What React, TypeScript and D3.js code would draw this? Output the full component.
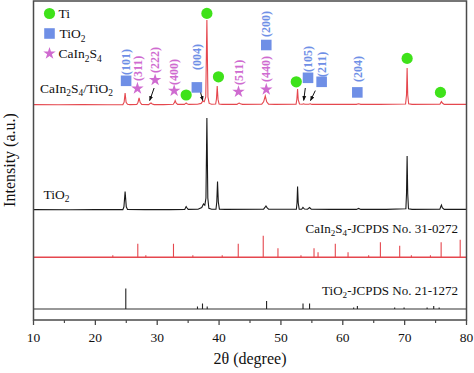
import React from "react";
import * as d3 from "d3";

// 2θ range and tick layout
const thetaDomain: [number, number] = [10, 80];
const majorTicks = [10, 20, 30, 40, 50, 60, 70, 80];
const minorTicks = [15, 25, 35, 45, 55, 65, 75];

// Vertical offsets (a.u.) of each stacked pattern
const offsetComposite = 1075;
const offsetTiO2 = 550;
const offsetRefCaIn2S4 = 314;
const offsetRefTiO2 = 55;

// Measured pattern: CaIn2S4/TiO2 composite  [2θ, intensity]
const compositeTrace: [number, number][] = [
  [10, 2], [14, 1], [18, 2], [22, 1], [24.45, 2], [24.65, 14], [24.81, 60], [24.97, 14], [25.2, 4], [25.6, 2],
  [26.7, 3], [26.9, 14], [27.07, 35], [27.25, 12], [27.5, 3],
  [28.6, 2], [28.8, 6], [29.0, 10], [29.2, 5], [29.5, 2],
  [31, 2], [32.6, 4], [32.78, 12], [32.9, 22], [33.05, 10], [33.3, 3],
  [34.4, 3], [34.55, 7], [34.68, 10], [34.82, 6], [35.1, 3],
  [36.5, 4], [37.1, 8], [37.38, 20], [37.6, 16], [37.85, 40], [38.03, 425], [38.2, 40], [38.4, 8], [38.8, 4],
  [39.45, 5], [39.58, 30], [39.7, 95], [39.83, 28], [40.0, 5], [40.5, 3],
  [42.9, 3], [43.1, 8], [43.26, 10], [43.45, 6], [43.8, 3],
  [46.9, 4], [47.2, 16], [47.47, 45], [47.7, 16], [48.0, 4], [49, 3],
  [52.45, 4], [52.58, 30], [52.69, 80], [52.8, 26], [53.0, 5], [53.45, 4], [53.66, 6], [53.85, 4],
  [54.5, 4], [54.75, 6], [55.0, 3],
  [58, 3], [62.2, 3], [62.56, 6], [62.9, 3], [66, 3],
  [70.15, 5], [70.3, 50], [70.4, 185], [70.5, 50], [70.65, 6], [71.2, 3],
  [75.7, 4], [75.85, 12], [75.95, 17], [76.1, 10], [76.4, 3], [80, 3],
];

// Measured pattern: bare TiO2
const tio2Trace: [number, number][] = [
  [10, 2], [16, 1], [20, 2], [24.45, 2], [24.62, 16], [24.81, 92], [25.0, 16], [25.2, 3], [28, 2], [32, 2],
  [34.45, 3], [34.6, 12], [34.68, 17], [34.8, 11], [35.0, 3],
  [36.6, 4], [37.2, 12], [37.48, 30], [37.7, 24], [37.88, 60], [38.03, 460], [38.18, 60], [38.35, 8], [38.8, 4],
  [39.5, 4], [39.63, 40], [39.75, 142], [39.88, 40], [40.05, 4], [41, 3],
  [47.2, 4], [47.45, 14], [47.58, 20], [47.75, 12], [48.0, 4],
  [52.5, 4], [52.6, 35], [52.69, 117], [52.8, 35], [52.95, 4], [53.35, 4], [53.56, 13], [53.8, 5],
  [54.3, 4], [54.63, 12], [54.9, 4],
  [58, 3], [62.2, 3], [62.56, 8], [62.9, 3], [67, 3],
  [70.2, 6], [70.3, 80], [70.4, 270], [70.5, 80], [70.62, 6], [71.2, 3],
  [75.7, 4], [75.85, 18], [75.95, 25], [76.08, 12], [76.4, 3], [80, 3],
];

// Reference lines: CaIn2S4 JCPDS No. 31-0272  [2θ, intensity]
const refCaIn2S4: [number, number][] = [
  [22.82, 10], [26.86, 67], [28.16, 10], [32.63, 67], [35.76, 10], [40.51, 10], [43.1, 67],
  [47.14, 107], [49.52, 45], [53.24, 10], [55.35, 45], [56.0, 25], [58.79, 67], [60.85, 25],
  [64.18, 10], [66.08, 75], [69.2, 57], [71.09, 10], [74.17, 10], [75.9, 75], [78.98, 87],
];

// Reference lines: TiO2 JCPDS No. 21-1272
const refTiO2: [number, number][] = [
  [24.92, 103], [36.51, 12], [37.32, 28], [38.08, 12], [47.68, 40], [53.57, 28], [54.63, 28],
  [61.76, 8], [62.36, 15], [68.39, 8], [69.91, 8], [73.63, 8], [74.7, 15], [75.58, 8],
];

// Phase markers [2θ, level]
const tiMarks: [number, number][] = [
  [34.68, 1125], [38.03, 1533], [39.9, 1216], [52.48, 1191], [70.4, 1308], [75.79, 1138],
];
const tio2Marks: [number, number][] = [
  [24.97, 1196], [36.41, 1163], [47.63, 1375], [54.38, 1211], [56.58, 1191], [62.35, 1138],
];
const caIn2S4Marks: [number, number][] = [
  [26.8, 1158], [29.66, 1200], [32.74, 1146], [43.14, 1141], [47.63, 1153],
];

// Miller indices: [label, 2θ, level of the label's lower end, phase]
const hklLabels: [string, number, number, "tio2" | "cis"][] = [
  ["(101)", 24.97, 1225, "tio2"],
  ["(311)", 26.8, 1195, "cis"],
  ["(222)", 29.66, 1235, "cis"],
  ["(400)", 32.74, 1175, "cis"],
  ["(004)", 36.41, 1250, "tio2"],
  ["(511)", 43.14, 1175, "cis"],
  ["(440)", 47.63, 1190, "cis"],
  ["(200)", 47.63, 1415, "tio2"],
  ["(105)", 54.38, 1240, "tio2"],
  ["(211)", 56.58, 1215, "tio2"],
  ["(204)", 62.35, 1190, "tio2"],
];

// Arrows pointing at weak reflections: [from 2θ, from level, to 2θ, to level]
const arrows: [number, number, number, number][] = [
  [29.5, 1160, 28.78, 1097],
  [36.78, 1165, 37.36, 1097],
  [53.94, 1160, 53.68, 1098],
  [55.56, 1147, 54.78, 1097],
];

const W = 474;
const H = 373;
const plot = { left: 33.5, right: 466.5, top: 1, bottom: 320 };

const RED = "#e5474e";
const BLUE = "#6f8fe6";
const PINK = "#cf6bd0";
const GREEN = "#3fe21a";
const FONT = "'Liberation Serif', 'Times New Roman', serif";

function Chem({ parts, x, y, size, anchor = "start" }: {
  parts: [string, boolean][]; x: number; y: number; size: number; anchor?: string;
}) {
  // parts: [text, isSubscript]
  const sub = size * 0.7;
  const shift = size * 0.28;
  let prevSub = false;
  return (
    <text x={x} y={y} fontSize={size} fontFamily={FONT} textAnchor={anchor} fill="#111">
      {parts.map(([t, isSub], i) => {
        const dy = isSub && !prevSub ? shift : !isSub && prevSub ? -shift : 0;
        prevSub = isSub;
        return (
          <tspan key={i} dy={dy} fontSize={isSub ? sub : size}>{t}</tspan>
        );
      })}
    </text>
  );
}

export default function App() {
  const x = d3.scaleLinear().domain(thetaDomain).range([plot.left, plot.right]);
  const y = d3.scaleLinear().domain([0, 1600]).range([plot.bottom, 0]);

  const line = (offset: number) =>
    d3.line<[number, number]>()
      .x((d) => x(d[0]))
      .y((d) => y(d[1] + offset));

  const star = d3.symbol().type(d3.symbolStar).size(48)()!;
  const square = d3.symbol().type(d3.symbolSquare).size(112)()!;

  const cis: [string, boolean][] = [["CaIn", false], ["2", true], ["S", false], ["4", true]];
  const tio2: [string, boolean][] = [["TiO", false], ["2", true]];

  return (
    <svg width={W} height={H} style={{ position: "absolute", left: 0, top: 0, background: "#fff" }}>
      <defs>
        <marker id="ah" viewBox="0 0 10 10" refX="9" refY="5" markerWidth="5" markerHeight="5" orient="auto">
          <path d="M0,1 L10,5 L0,9 Z" fill="#111" />
        </marker>
        <clipPath id="plotClip">
          <rect x={plot.left} y={plot.top} width={plot.right - plot.left} height={plot.bottom - plot.top} />
        </clipPath>
      </defs>
      <rect width={W} height={H} fill="#fff" />

      <g clipPath="url(#plotClip)">
        {/* reference line baselines */}
        <line x1={x(10)} x2={x(80)} y1={y(offsetRefCaIn2S4)} y2={y(offsetRefCaIn2S4)} stroke={RED} strokeWidth={1.4} />
        <line x1={x(10)} x2={x(80)} y1={y(offsetRefTiO2)} y2={y(offsetRefTiO2)} stroke="#333" strokeWidth={1.2} />
        {refCaIn2S4.map(([t, v], i) => (
          <line key={"rc" + i} x1={x(t)} x2={x(t)} y1={y(offsetRefCaIn2S4)} y2={y(offsetRefCaIn2S4 + v)} stroke={RED} strokeWidth={1.1} />
        ))}
        {refTiO2.map(([t, v], i) => (
          <line key={"rt" + i} x1={x(t)} x2={x(t)} y1={y(offsetRefTiO2)} y2={y(offsetRefTiO2 + v)} stroke="#222" strokeWidth={1.1} />
        ))}

        {/* measured patterns */}
        <path d={line(offsetTiO2)(tio2Trace)!} fill="none" stroke="#1a1a1a" strokeWidth={1.1} />
        <path d={line(offsetComposite)(compositeTrace)!} fill="none" stroke={RED} strokeWidth={1.1} />
      </g>

      {/* arrows */}
      {arrows.map(([t0, v0, t1, v1], i) => (
        <line key={"a" + i} x1={x(t0)} y1={y(v0)} x2={x(t1)} y2={y(v1)} stroke="#111" strokeWidth={1} markerEnd="url(#ah)" />
      ))}

      {/* phase markers */}
      {tiMarks.map(([t, v], i) => (
        <circle key={"ti" + i} cx={x(t)} cy={y(v)} r={5.6} fill={GREEN} />
      ))}
      {tio2Marks.map(([t, v], i) => (
        <path key={"sq" + i} d={square} transform={`translate(${x(t)},${y(v)})`} fill={BLUE} />
      ))}
      {caIn2S4Marks.map(([t, v], i) => (
        <path key={"st" + i} d={star} transform={`translate(${x(t)},${y(v)})`} fill={PINK} />
      ))}

      {/* Miller indices */}
      {hklLabels.map(([label, t, v, phase], i) => (
        <text key={"h" + i} transform={`translate(${x(t)},${y(v)}) rotate(-90)`} dy="0.35em"
          fontSize={12} fontFamily={FONT} fontWeight="bold" fill={phase === "tio2" ? BLUE : PINK}>
          {label}
        </text>
      ))}

      {/* legend */}
      <circle cx={49.5} cy={13.5} r={5.6} fill={GREEN} />
      <text x={58.5} y={18} fontSize={13.5} fontFamily={FONT} fill="#111">Ti</text>
      <path d={square} transform="translate(49.5,33.5)" fill={BLUE} />
      <Chem parts={tio2} x={59.5} y={38} size={13.5} />
      <path d={star} transform="translate(49.5,53.5)" fill={PINK} />
      <Chem parts={cis} x={58.5} y={58} size={13.5} />

      {/* pattern labels */}
      <Chem parts={[["CaIn", false], ["2", true], ["S", false], ["4", true], ["/TiO", false], ["2", true]]} x={40} y={92.5} size={13.5} />
      <Chem parts={tio2} x={43.5} y={198.5} size={13.5} />
      <Chem parts={[["CaIn", false], ["2", true], ["S", false], ["4", true], ["-JCPDS No. 31-0272", false]]} x={458} y={232.5} size={13} anchor="end" />
      <Chem parts={[["TiO", false], ["2", true], ["-JCPDS No. 21-1272", false]]} x={458} y={294.5} size={13} anchor="end" />

      {/* frame */}
      <rect x={plot.left} y={plot.top} width={plot.right - plot.left} height={plot.bottom - plot.top}
        fill="none" stroke="#4a4a4a" strokeWidth={1.5} />

      {/* bottom axis */}
      {majorTicks.map((t) => (
        <g key={"M" + t}>
          <line x1={x(t)} x2={x(t)} y1={plot.bottom} y2={plot.bottom + 5} stroke="#4a4a4a" strokeWidth={1.3} />
          <text x={x(t)} y={342} textAnchor="middle" fontSize={13.5} fontFamily={FONT} fill="#111">{t}</text>
        </g>
      ))}
      {minorTicks.map((t) => (
        <line key={"m" + t} x1={x(t)} x2={x(t)} y1={plot.bottom} y2={plot.bottom + 3} stroke="#4a4a4a" strokeWidth={1.2} />
      ))}
      <text x={(plot.left + plot.right) / 2} y={364} textAnchor="middle" fontSize={16} fontFamily={FONT} fill="#111">
        2θ (degree)
      </text>
      <text transform={`translate(15,160) rotate(-90)`} textAnchor="middle" fontSize={16} fontFamily={FONT} fill="#111">
        Intensity (a.u.)
      </text>
    </svg>
  );
}
